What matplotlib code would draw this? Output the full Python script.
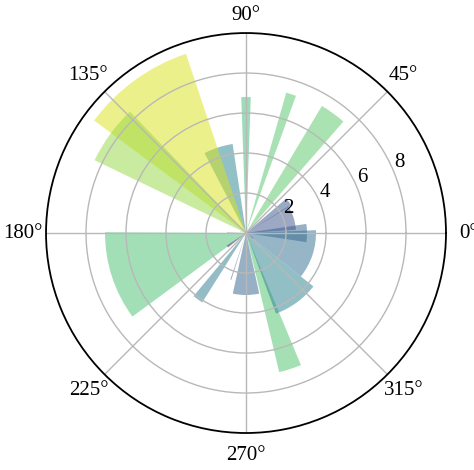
import numpy as np
import matplotlib
matplotlib.use("Agg")
import matplotlib.pyplot as plt
from matplotlib.transforms import offset_copy

# bar angles (degrees), radii and widths (radians)
theta_deg = [0, 18, 36, 54, 72, 90, 108, 126, 144, 162,
             180, 198, 216, 234, 252, 270, 288, 306, 324, 342]
radii = [3.05, 2.5, 2.65, 7.4, 7.3, 6.8, 4.5, 9.45, 8.4, 0.3,
         0.95, 7.05, 1.15, 4.1, 2.45, 3.1, 7.15, 4.3, 0.45, 3.5]
widths = [0.3, 0.5, 0.16, 0.18, 0.07, 0.07, 0.33, 0.61, 0.36, 0.05,
          0.05, 0.64, 0.1, 0.13, 0.02, 0.43, 0.16, 0.545, 0.1, 0.71]
r_ticks = [2, 4, 6, 8]
theta_ticks = [0, 45, 90, 135, 180, 225, 270, 315]

plt.rcParams['font.family'] = ['Liberation Serif', 'DejaVu Serif']

fig = plt.figure(figsize=(4.74, 4.70), dpi=100)
ax = fig.add_axes([0.097, 0.0787, 0.844, 0.851], projection='polar')

theta = np.deg2rad(theta_deg)
colors = plt.cm.viridis(np.array(radii) / 10.0)
ax.bar(theta, radii, width=widths, bottom=0.0, color=colors, alpha=0.5)

ax.set_ylim(0, 10)
ax.set_yticks(r_ticks)
ax.set_yticklabels([str(t) for t in r_ticks], fontsize=15)

# 90 deg label sits closer to the circle in the original, place it by hand
ax.set_xticks(np.deg2rad(theta_ticks))
ax.set_xticklabels(["" if d == 90 else f"{d}\u00b0" for d in theta_ticks], fontsize=15)
ax.tick_params(axis='x', pad=6)
top_lbl = offset_copy(ax.transData, fig=fig, x=0, y=18, units='dots')
ax.text(np.pi / 2, 10, "90\u00b0", transform=top_lbl, fontsize=15,
        ha='center', va='center')

ax.grid(True, color='#b8b8b8', linewidth=1.0)
ax.spines['polar'].set_linewidth(1.3)

fig.savefig("out.png", dpi=100)
